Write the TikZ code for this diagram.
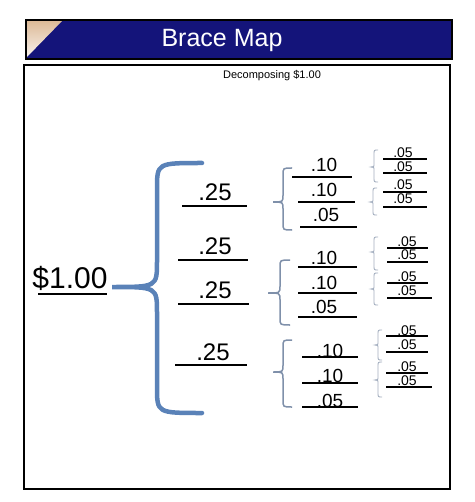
\documentclass[tikz,border=0pt]{standalone}
\usepackage{fontspec}
\setmainfont{Liberation Sans}
\definecolor{navy}{HTML}{14147A}
\definecolor{bigblue}{HTML}{5A82B8}
\definecolor{midblue}{HTML}{7F90AA}
\definecolor{smallblue}{HTML}{A3AEBF}
\newcommand\bmBrace[8]{% style, xend, xvert, xtip, ytop, ytip, ybot, r
  \draw[#1] (#2,#5) .. controls (#3,#5) .. (#3,{#5+#8}) -- (#3,{#6-#8})
    .. controls (#3,#6) .. (#4,#6) .. controls (#3,#6) .. (#3,{#6+#8})
    -- (#3,{#7-#8}) .. controls (#3,#7) .. (#2,#7);}
\begin{document}
\begin{tikzpicture}[x=1pt,y=-1pt,
  big/.style={font=\fontsize{30}{32}\selectfont, inner sep=0pt},
  quarter/.style={font=\fontsize{24}{26}\selectfont, inner sep=0pt},
  dime/.style={font=\fontsize{19}{21}\selectfont, inner sep=0pt},
  nickel/.style={font=\fontsize{14}{15}\selectfont, inner sep=0pt},
  uline/.style={line width=1.4pt},
  bigbrace/.style={bigblue, line width=4.5pt, line cap=round},
  midbrace/.style={midblue, line width=1.5pt},
  smallbrace/.style={smallblue, line width=0.9pt}]
\useasboundingbox (0,0) rectangle (474,502);
% header
\fill[navy] (26,20) rectangle (452,59);
\shade[top color=brown!55!white, bottom color=brown!10!white] (26,20) -- (63,20) -- (27,57) -- (26,57) -- cycle;
\draw[line width=1.2pt] (26,20) rectangle (452,59);
\node[font=\fontsize{25}{27}\selectfont, text=white, inner sep=0pt] (title) at (222,40) {Brace Map};
% frame
\draw[line width=2pt] (24,65) rectangle (450,489);
\node[font=\fontsize{11}{13}\selectfont, inner sep=0pt] (sub) at (272,76) {Decomposing \$1.00};
% whole
\node[big, anchor=base] (whole) at (70,288) {\$1.00};
\draw[uline] (38,294) -- (107,294);
\bmBrace{bigbrace}{202}{157}{112}{163}{287}{413}{26}
% quarters
\node[quarter] (q1) at (215,192) {.25};
\draw[uline] (182,206) -- (247,206);
\node[quarter] (q2) at (215,246) {.25};
\draw[uline] (178,260) -- (248,260);
\node[quarter] (q3) at (215,290) {.25};
\draw[uline] (178,304) -- (249,304);
\node[quarter] (q4) at (213,352) {.25};
\draw[uline] (175,365) -- (247,365);
% group 1
\bmBrace{midbrace}{292}{283}{273}{168}{202}{230}{7}
\node[dime] (d11) at (324,165) {.10};
\draw[uline] (292,177) -- (352,177);
\node[dime] (d12) at (324,190) {.10};
\draw[uline] (298,202) -- (355,202);
\node[dime] (d13) at (326,215) {.05};
\draw[uline] (300,227) -- (357,227);
\bmBrace{smallbrace}{378}{374}{371}{150}{167}{182}{4}
\bmBrace{smallbrace}{377}{373}{370}{188}{202}{215}{4}
\node[nickel] (n111) at (403,153) {.05};
\draw[uline] (383,159) -- (427,159);
\node[nickel] (n112) at (403,167) {.05};
\draw[uline] (383,173) -- (427,173);
\node[nickel] (n121) at (403,185) {.05};
\draw[uline] (383,192) -- (427,192);
\node[nickel] (n122) at (403,199) {.05};
\draw[uline] (383,207) -- (427,207);
% group 2
\bmBrace{midbrace}{290}{280}{268}{260}{293}{325}{7}
\node[dime] (d21) at (324,258) {.10};
\draw[uline] (298,267) -- (357,267);
\node[dime] (d22) at (324,283) {.10};
\draw[uline] (298,293) -- (357,293);
\node[dime] (d23) at (324,307) {.05};
\draw[uline] (298,317) -- (357,317);
\bmBrace{smallbrace}{378}{374}{371}{237}{252}{270}{4}
\bmBrace{smallbrace}{378}{374}{371}{273}{289}{305}{4}
\node[nickel] (n211) at (407,242) {.05};
\draw[uline] (387,248) -- (428,248);
\node[nickel] (n212) at (407,255) {.05};
\draw[uline] (387,262) -- (428,262);
\node[nickel] (n221) at (407,277) {.05};
\draw[uline] (387,283) -- (428,283);
\node[nickel] (n222) at (407,291) {.05};
\draw[uline] (387,298) -- (432,298);
% group 3
\bmBrace{midbrace}{292}{283}{273}{340}{372}{407}{7}
\node[dime] (d31) at (330,351) {.10};
\draw[uline] (302,357) -- (358,357);
\node[dime] (d32) at (330,376) {.10};
\draw[uline] (302,383) -- (358,383);
\node[dime] (d33) at (330,401) {.05};
\draw[uline] (302,407) -- (358,407);
\bmBrace{smallbrace}{382}{378}{375}{330}{345}{360}{4}
\bmBrace{smallbrace}{382}{378}{375}{362}{380}{397}{4}
\node[nickel] (n311) at (407,331) {.05};
\draw[uline] (386,336) -- (428,336);
\node[nickel] (n312) at (407,345) {.05};
\draw[uline] (386,352) -- (428,352);
\node[nickel] (n321) at (407,367) {.05};
\draw[uline] (386,373) -- (428,373);
\node[nickel] (n322) at (407,381) {.05};
\draw[uline] (386,387) -- (432,387);
\end{tikzpicture}
\end{document}
